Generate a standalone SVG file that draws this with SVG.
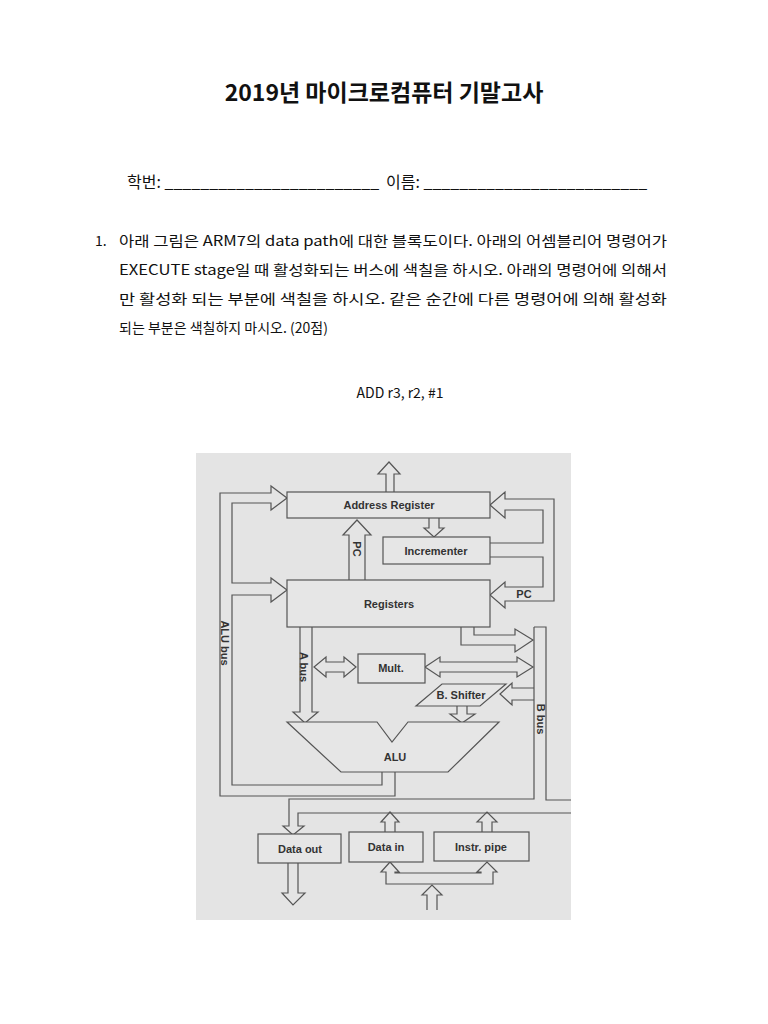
<svg xmlns="http://www.w3.org/2000/svg" width="768" height="1024" viewBox="0 0 768 1024">
<style>
.t{font-family:"Noto Sans CJK KR","Noto Sans",sans-serif;fill:#111}
.b{fill:none;stroke:#555;stroke-width:1.2;stroke-linejoin:miter}
.box{fill:#e6e6e6;stroke:#555;stroke-width:1.2}
.l{font-family:"Liberation Sans",Arial,sans-serif;font-weight:bold;font-size:11px;fill:#333;text-anchor:middle}
</style>
<rect width="768" height="1024" fill="#fff"/>
<text class="t" x="384" y="101" font-size="23" font-weight="bold" text-anchor="middle">2019년 마이크로컴퓨터 기말고사</text>
<text class="t" x="127" y="188" font-size="16">학번: ________________________</text>
<text class="t" x="386" y="188" font-size="16">이름: _________________________</text>
<g class="t" font-size="14">
<text x="95" y="246">1.</text>
<text x="119" y="246" textLength="548" lengthAdjust="spacingAndGlyphs">아래 그림은 ARM7의 data path에 대한 블록도이다. 아래의 어셈블리어 명령어가</text>
<text x="119" y="275" textLength="548" lengthAdjust="spacingAndGlyphs">EXECUTE stage일 때 활성화되는 버스에 색칠을 하시오. 아래의 명령어에 의해서</text>
<text x="119" y="304" textLength="548" lengthAdjust="spacingAndGlyphs">만 활성화 되는 부분에 색칠을 하시오. 같은 순간에 다른 명령어에 의해 활성화</text>
<text x="119" y="333">되는 부분은 색칠하지 마시오. (20점)</text>
<text x="400" y="398" text-anchor="middle">ADD r3, r2, #1</text>
</g>
<rect x="196" y="453" width="375" height="467" fill="#e4e4e4"/>
<g id="connectors">
<path class="b" d="M386,492 V474 H378 L389,462 L400,474 H394 V492"/>
<path class="b" d="M429,518 V528 H424 L434,537 L444,528 H439 V518"/>
<path class="b" d="M349,580 V535 H343 L357,520 L371,535 H365 V580"/>
<path class="b" d="M490,505 L505,492 V499 H554 V601 H505 V608 L490,595 L505,582 V587 H543 V557 H490"/>
<path class="b" d="M490,543 H543 V510 H505 V518 L490,505"/>
<path class="b" d="M287,498 L271,486 V493 H220 V796 H395 V772"/>
<path class="b" d="M287,498 L271,510 V503 H232 V583 H271 V578 L287,590 L271,602 V595 H232 V785 H382 V772"/>
<path class="b" d="M300,627 V712 H293 L305,723 L318,712 H312 V627"/>
<path class="b" d="M356,667 L344,657 V662 H326 V657 L314,667 L326,677 V672 H344 V677 Z"/>
<path class="b" d="M425,667 L440,657 V662 H517 V657 L533,667 L517,677 V672 H440 V677 Z"/>
<path class="b" d="M461,627 V645 H515 V652 L533,640 L515,629 V635 H474 V627"/>
<path class="b" d="M534,627 H546 V800 H571"/>
<path class="b" d="M534,627 V799 H289 V826 H283 L293,835 L304,826 H298 V813 H571"/>
<path class="b" d="M534,688 H512 V683 L500,694 L512,705 V700 H534"/>
<path class="b" d="M457,706 V714 H450 L462,723 L475,714 H467 V706"/>
<path class="b" d="M288,863 V893 H282 L293,905 L305,893 H298 V863"/>
<path class="b" d="M385,832 V822 H381 L390,812 L399,822 H395 V832"/>
<path class="b" d="M482,832 V822 H477 L487,812 L497,822 H492 V832"/>
<path class="b" d="M386,884 V872 H381 L390,862 L399,872 H395 V873 H481 V872 H477 L487,862 L497,872 H493 V884 Z"/>
<path class="b" d="M427,910 V895 H422 L432,885 L442,895 H437 V910"/>
</g>
<g id="addr"><rect class="box" x="287" y="492" width="203" height="26"/><text class="l" x="389" y="509">Address Register</text></g>
<g id="inc"><rect class="box" x="383" y="537" width="107" height="27"/><text class="l" x="436" y="555">Incrementer</text></g>
<g id="regs"><rect class="box" x="287" y="580" width="203" height="47"/><text class="l" x="389" y="608">Registers</text></g>
<g id="mult"><rect class="box" x="358" y="654" width="67" height="29"/><text class="l" x="391" y="672">Mult.</text></g>
<g id="shifter"><polygon class="box" points="442,684 506,684 480,706 416,706"/><text class="l" x="461" y="699">B. Shifter</text></g>
<g id="alu"><polygon class="box" points="287,722 377,722 392,742 408,722 499,722 448,772 341,772"/><text class="l" x="395" y="761">ALU</text></g>
<g id="dout"><rect class="box" x="258" y="834" width="83" height="29"/><text class="l" x="300" y="853">Data out</text></g>
<g id="din"><rect class="box" x="349" y="832" width="74" height="30"/><text class="l" x="386" y="851">Data in</text></g>
<g id="ipipe"><rect class="box" x="434" y="832" width="95" height="29"/><text class="l" x="481" y="851">Instr. pipe</text></g>
<g id="labels">
<text class="l" transform="translate(353,549) rotate(90)">PC</text>
<text class="l" x="524" y="598">PC</text>
<text class="l" transform="translate(221,643) rotate(90)">ALU bus</text>
<text class="l" transform="translate(300,667) rotate(90)">A bus</text>
<text class="l" transform="translate(537,719) rotate(90)">B bus</text>
</g>
</svg>
